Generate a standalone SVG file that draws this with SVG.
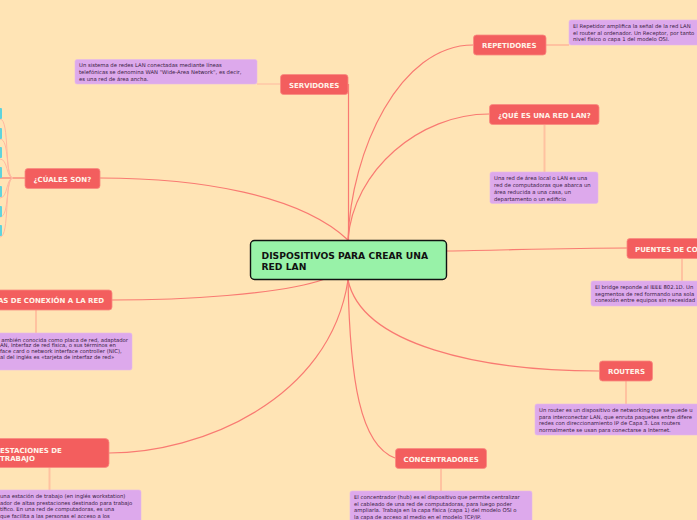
<svg xmlns="http://www.w3.org/2000/svg" width="697" height="520" viewBox="0 0 697 520">
<style>
.bg{fill:#FFE4B5}
.n{fill:#F35E5E;stroke:#F98A80;stroke-width:.8}
.nt{font-family:"DejaVu Sans",sans-serif;font-weight:700;font-size:7px;fill:#FFF3E8}
.p{fill:#DDA9EC;stroke:#E6B8E8;stroke-width:.6}
.pt{font-family:"DejaVu Sans",sans-serif;font-size:5.3px;fill:#38203F}
.c{fill:none;stroke:#F97A72;stroke-width:1.2}
.s{fill:none;stroke:#FFC2A0;stroke-width:2}
.k{fill:none;stroke:#FFB8A0;stroke-width:1}
.t{fill:#5FD3DC}
</style>
<rect class="bg" width="697" height="520"/>
<g id="connectors">
<path class="c" d="M348.500 84V240"/>
<path class="c" d="M348 240C351 150 400 45 473 45"/>
<path class="c" d="M348 240C353 170 420 114 489 114"/>
<path class="c" d="M447 251C510 250 570 248 627 248"/>
<path class="c" d="M348 280C362 345 480 371 599 371"/>
<path class="c" d="M348 280C350 380 360 445 395 458"/>
<path class="c" d="M100 178C200 178 300 195 348 240"/>
<path class="c" d="M112 300C180 300 280 295 325 279"/>
<path class="c" d="M109 453C200 453 330 400 348 280"/>
<path class="c" d="M0 178H25"/>
<path class="s" d="M546 45H569"/>
<path class="s" d="M544.500 125V172"/>
<path class="s" d="M682 259V281"/>
<path class="s" d="M626 381V404"/>
<path class="s" d="M441 469V491"/>
<path class="s" d="M36 310V333"/>
<path class="s" d="M49.500 467V490"/>
<path class="k" d="M257 84H280"/>
<path class="k" d="M13 178C4 178 10 119 0 119"/>
<path class="k" d="M13 178C5 178 10 139 0 139"/>
<path class="k" d="M13 178C6 178 8 159 0 159"/>
<path class="k" d="M13 178C6 178 8 198 0 198"/>
<path class="k" d="M13 178C5 178 10 217 0 217"/>
<path class="k" d="M13 178C4 178 10 237 0 237"/>
</g>
<g id="teal">
<rect class="t" x="-3" y="108" width="5" height="11" rx="1"/>
<rect class="t" x="-3" y="128" width="5" height="11" rx="1"/>
<rect class="t" x="-3" y="147" width="5" height="11" rx="1"/>
<rect class="t" x="-3" y="167" width="5" height="11" rx="1"/>
<rect class="t" x="-3" y="186" width="5" height="11" rx="1"/>
<rect class="t" x="-3" y="206" width="5" height="11" rx="1"/>
<rect class="t" x="-3" y="225" width="5" height="11" rx="1"/>
</g>
<g id="center">
<rect x="250.500" y="240.500" width="196" height="39" rx="4" fill="#98F2A8" stroke="#111" stroke-width="1.4"/>
<text font-family="DejaVu Sans,sans-serif" font-weight="700" font-size="9.200" fill="#111" x="261.500" y="258.500">DISPOSITIVOS PARA CREAR UNA</text>
<text font-family="DejaVu Sans,sans-serif" font-weight="700" font-size="9.200" fill="#111" x="261.500" y="269.500">RED LAN</text>
</g>
<g id="repetidores">
<rect class="n" x="473.500" y="35" width="72.500" height="20" rx="3"/>
<text class="nt" x="482" y="48">REPETIDORES</text>
<rect class="p" x="569" y="20" width="140" height="25" rx="2"/>
<text class="pt"><tspan x="573" y="28">El Repetidor amplifica la señal de la red LAN</tspan><tspan x="573" y="34.500">el router al ordenador. Un Receptor, por tanto</tspan><tspan x="573" y="41">nivel físico o capa 1 del modelo OSI.</tspan></text>
</g>
<g id="quees">
<rect class="n" x="489.500" y="104.500" width="109.500" height="20" rx="3"/>
<text class="nt" x="498" y="117.500">¿QUÉ ES UNA RED LAN?</text>
<rect class="p" x="490" y="172" width="108" height="31.500" rx="2"/>
<text class="pt"><tspan x="494" y="180">Una red de área local o LAN es una</tspan><tspan x="494" y="187">red de computadoras que abarca un</tspan><tspan x="494" y="193.500">área reducida a una casa, un</tspan><tspan x="494" y="200.500">departamento o un edificio</tspan></text>
</g>
<g id="puentes">
<rect class="n" x="627" y="238.500" width="90" height="20" rx="3"/>
<text class="nt" x="635" y="251.500">PUENTES DE CO</text>
<rect class="p" x="591" y="281" width="130" height="25" rx="2"/>
<text class="pt"><tspan x="595" y="289">El bridge reponde al IEEE 802.1D. Un</tspan><tspan x="595" y="295.500">segmentos de red formando una sola</tspan><tspan x="595" y="302">conexión entre equipos sin necesidad</tspan></text>
</g>
<g id="routers">
<rect class="n" x="599.500" y="361" width="53" height="20" rx="3"/>
<text class="nt" x="608" y="374">ROUTERS</text>
<rect class="p" x="535" y="404" width="180" height="31" rx="2"/>
<text class="pt"><tspan x="539" y="412">Un router es un dispositivo de networking que se puede u</tspan><tspan x="539" y="418.500">para interconectar LAN, que enruta paquetes entre difere</tspan><tspan x="539" y="425">redes con direccionamiento IP de Capa 3. Los routers</tspan><tspan x="539" y="431.500">normalmente se usan para conectarse a Internet.</tspan></text>
</g>
<g id="concentradores">
<rect class="n" x="395.500" y="448.500" width="91" height="20" rx="3"/>
<text class="nt" x="403.500" y="461.500">CONCENTRADORES</text>
<rect class="p" x="350" y="491" width="182" height="35" rx="2"/>
<text class="pt"><tspan x="354" y="499">El concentrador (hub) es el dispositivo que permite centralizar</tspan><tspan x="354" y="505.500">el cableado de una red de computadoras, para luego poder</tspan><tspan x="354" y="512">ampliarla. Trabaja en la capa física (capa 1) del modelo OSI o</tspan><tspan x="354" y="518.500">la capa de acceso al medio en el modelo TCP/IP.</tspan></text>
</g>
<g id="servidores">
<rect class="n" x="280.500" y="74.500" width="67.500" height="20" rx="3"/>
<text class="nt" x="289" y="87.500">SERVIDORES</text>
<rect class="p" x="75" y="59.500" width="182" height="24.500" rx="2"/>
<text class="pt"><tspan x="79" y="67">Un sistema de redes LAN conectadas mediante líneas</tspan><tspan x="79" y="73.500">telefónicas se denomina WAN "Wide-Area Network", es decir,</tspan><tspan x="79" y="80.500">es una red de área ancha.</tspan></text>
</g>
<g id="cuales">
<rect class="n" x="25" y="168.500" width="75" height="20" rx="3"/>
<text class="nt" x="33.500" y="181.500">¿CÚALES SON?</text>
</g>
<g id="tarjetas">
<rect class="n" x="-40" y="290" width="152" height="20" rx="3"/>
<text class="nt" x="104" y="303" text-anchor="end">AS DE CONEXIÓN A LA RED</text>
<rect class="p" x="-50" y="333" width="182" height="37" rx="2"/>
<text class="pt"><tspan x="128" y="341.500" text-anchor="end">ambién conocida como placa de red, adaptador</tspan><tspan x="0" y="347">AN, Interfaz de red física, o sus términos en</tspan><tspan x="0" y="353">face card o network interface controller (NIC),</tspan><tspan x="0" y="359">al del inglés es «tarjeta de interfaz de red»</tspan></text>
</g>
<g id="estaciones">
<rect class="n" x="-40" y="438.500" width="149" height="29" rx="4"/>
<text class="nt"><tspan x="0" y="452.500">ESTACIONES DE</tspan><tspan x="0" y="460.500">TRABAJO</tspan></text>
<rect class="p" x="-50" y="490" width="191" height="40" rx="2"/>
<text class="pt"><tspan x="0" y="498">una estación de trabajo (en inglés workstation)</tspan><tspan x="0" y="504.500">ador de altas prestaciones destinado para trabajo</tspan><tspan x="0" y="511">tífico. En una red de computadoras, es una</tspan><tspan x="0" y="517.500">que facilita a las personas el acceso a los</tspan></text>
</g>
</svg>
